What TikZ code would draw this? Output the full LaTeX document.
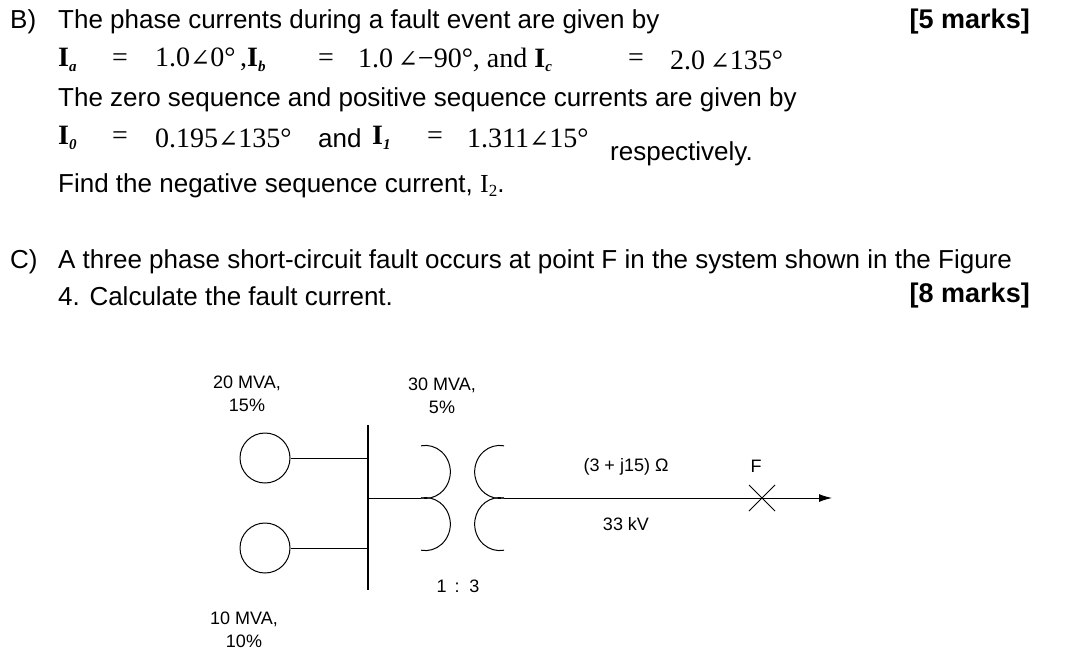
\documentclass[tikz,border=0pt]{standalone}
\usepackage{fontspec}
\setmainfont{Liberation Sans}
\newfontfamily\serif{Liberation Serif}
\newfontfamily\djv{DejaVu Serif}
\usetikzlibrary{arrows.meta,calc}
\begin{document}
\begin{tikzpicture}[x=1pt,y=-1pt,
  txt/.style={anchor=west,inner sep=0pt,font=\fontsize{26}{30}\selectfont},
  mk/.style={anchor=east,inner sep=0pt,font=\bfseries\fontsize{27}{30}\selectfont},
  eq/.style={anchor=west,inner sep=0pt,font=\serif\fontsize{28}{30}\selectfont},
  lbl/.style={align=center,inner sep=0pt,font=\fontsize{18}{23}\selectfont},
  wire/.style={line width=1pt}]
\useasboundingbox (0,0) rectangle (1074,670);
\newcommand{\BI}[1]{\textbf{I}\raisebox{-0.35ex}{\fontsize{15}{15}\selectfont\textbf{\textit{#1}}}}
\newcommand{\ang}{{\djv\fontsize{24}{24}\selectfont ∠}}
% Part B
\node[txt] (b0) at (10,22) {B)};
\node[txt] (b1) at (58,22) {The phase currents during a fault event are given by};
\node[mk] (m5) at (1030,22) {[5 marks]};
\node[eq] (e1) at (58,60) {\BI{a}};
\node[eq] (e2) at (112,60) {=};
\node[eq] (e3) at (155,60) {1.0\ang0°\,,\BI{b}};
\node[eq] (e4) at (318,60) {=};
\node[eq] (e5) at (358,60) {1.0\,\ang−90°, and \BI{c}};
\node[eq] (e6) at (628,60) {=};
\node[eq] (e7) at (670,60) {2.0\,\ang135°};
\node[txt] (b3) at (58,100) {The zero sequence and positive sequence currents are given by};
\node[eq] (f1) at (58,138) {\BI{0}};
\node[eq] (f2) at (112,138) {=};
\node[eq] (f3) at (155,138) {0.195\ang135°};
\node[txt] (f3b) at (318,138) {and};
\node[eq] (f3c) at (372,138) {\BI{1}};
\node[eq] (f4) at (427,138) {=};
\node[eq] (f5) at (467,138) {1.311\ang15°};
\node[txt] (f6) at (610,154) {respectively.};
\node[txt] (b5) at (58,186) {Find the negative sequence current, {\serif I\raisebox{-0.3ex}{\fontsize{17}{17}\selectfont 2}}.};
% Part C
\node[txt] (c0) at (10,262) {C)};
\node[txt] (c1) at (58,262) {A three phase short-circuit fault occurs at point F in the system shown in the Figure};
\node[txt] (c2) at (58,296) {4. Calculate the fault current.};
\node[mk] (m8) at (1030,296) {[8 marks]};
% Diagram
\node[draw,circle,minimum size=50pt,inner sep=0pt,wire] (g1) at (265,458) {};
\node[draw,circle,minimum size=50pt,inner sep=0pt,wire] (g2) at (265,548) {};
\coordinate (bt) at (368,425);
\coordinate (bb) at (368,590);
\draw[line width=2.5pt] (bt) -- (bb);
\draw[wire] (g1.east) -- (368,458);
\draw[wire] (g2.east) -- (368,548);
\coordinate (tl) at (421,498);
\coordinate (tr) at (504,498);
\draw[wire] (368,498) -- (tl);
\draw[wire] (tl) arc[start angle=100,end angle=-100,x radius=25,y radius=26.5];
\draw[wire] (tl) arc[start angle=-100,end angle=100,x radius=25,y radius=26.5];
\draw[wire] (tr) arc[start angle=80,end angle=280,x radius=25,y radius=26.5];
\draw[wire] (tr) arc[start angle=-80,end angle=-280,x radius=25,y radius=26.5];
\coordinate (ae) at (832,498);
\draw[wire,-{Latex[length=13pt,width=8pt]}] (tr) -- (ae);
\coordinate (fx) at (762,498);
\draw[wire] ($(fx)+(-13,-13)$) -- ($(fx)+(13,13)$);
\draw[wire] ($(fx)+(-13,13)$) -- ($(fx)+(13,-13)$);
\node[lbl] (l1) at (247,394) {20 MVA,\\15\%};
\node[lbl] (l2) at (442,396) {30 MVA,\\5\%};
\node[lbl] (l3) at (244,630) {10 MVA,\\10\%};
\node[lbl] (l4) at (626,467) {(3 + j15) Ω};
\node[lbl] (l5) at (626,524) {33 kV};
\node[lbl] (l6) at (756,466) {F};
\node[lbl] (l7) at (458,586) {1 \,:\, 3};
\end{tikzpicture}
\end{document}
